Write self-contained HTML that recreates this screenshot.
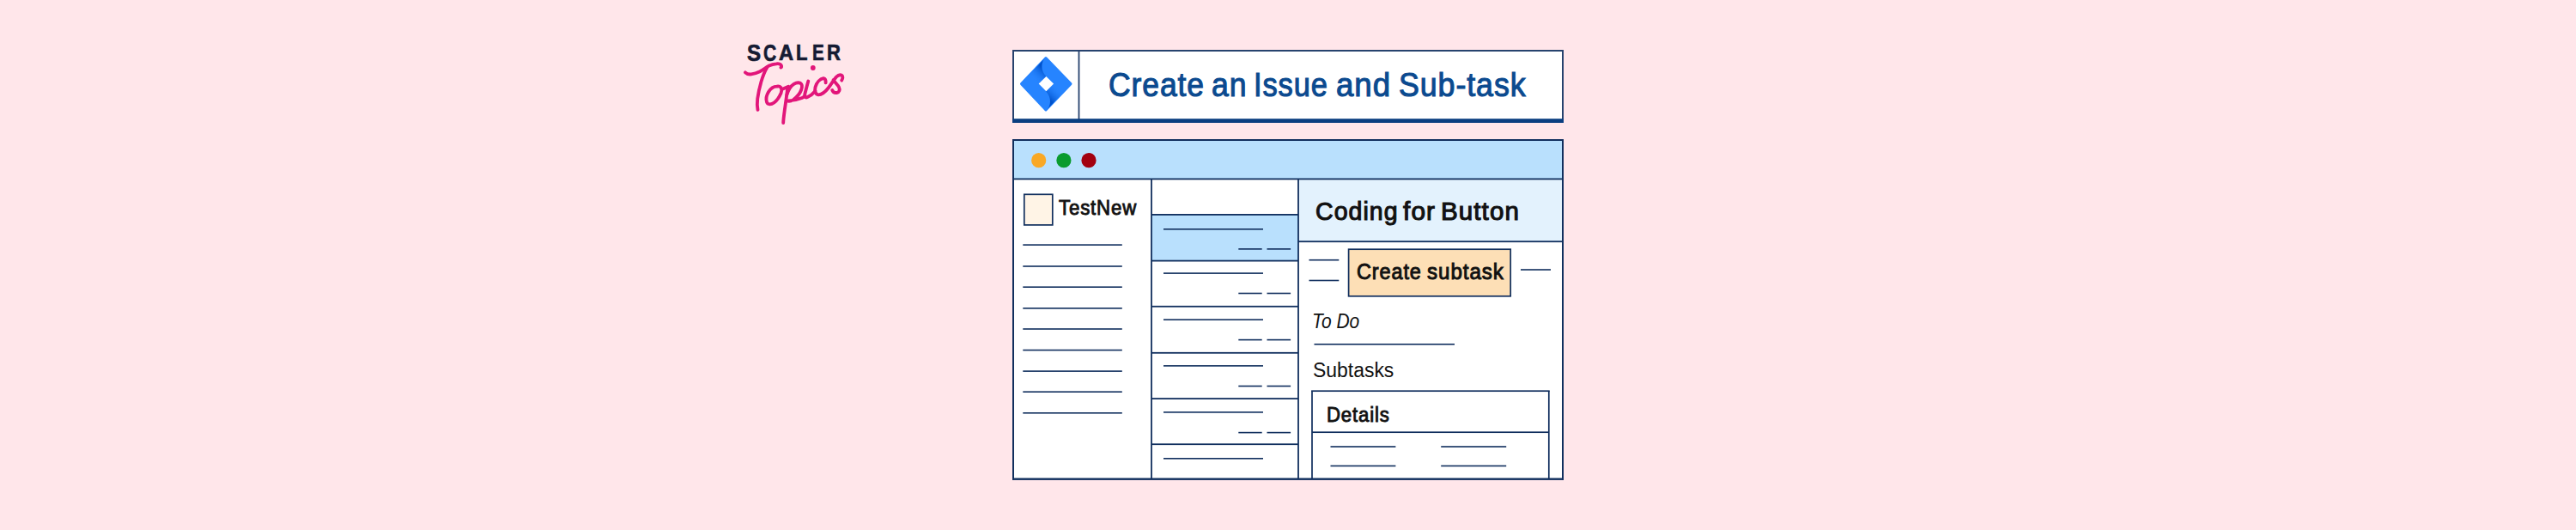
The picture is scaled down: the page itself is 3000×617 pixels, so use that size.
<!DOCTYPE html>
<html><head><meta charset="utf-8">
<style>
html,body{margin:0;padding:0;}
body{width:3000px;height:617px;background:#FFE6EA;position:relative;overflow:hidden;font-family:"Liberation Sans",sans-serif;}
.a{position:absolute;}
.t{position:absolute;white-space:nowrap;line-height:1;transform-origin:0 0;}
</style></head><body>
<div class="a" style="left:1180px;top:59px;width:640px;height:82px;background:#fff;"></div>
<div class="a" style="left:1180px;top:163px;width:640px;height:395px;background:#fff;"></div>
<div class="a" style="left:1180px;top:163px;width:640px;height:45px;background:#B9E0FD;"></div>
<div class="a" style="left:1341px;top:250px;width:171px;height:54px;background:#B9E0FD;"></div>
<div class="a" style="left:1512px;top:209px;width:308px;height:72px;background:#E3F2FD;"></div>
<svg class="a" style="left:0;top:0" width="3000" height="617" viewBox="0 0 3000 617"><rect x="1179" y="58.00" width="642" height="2" fill="#27436E"/>
<rect x="1179.00" y="58" width="2" height="84" fill="#27436E"/>
<rect x="1819.00" y="58" width="2" height="84" fill="#27436E"/>
<rect x="1255.60" y="59" width="1.8" height="80" fill="#27436E"/>
<rect x="1179" y="138.20" width="642" height="4.8" fill="#0A3E80"/>
<rect x="1179" y="162.00" width="642" height="2" fill="#112F5E"/>
<rect x="1179" y="207.50" width="642" height="1.8" fill="#112F5E"/>
<rect x="1179.00" y="162" width="2" height="396.70000000000005" fill="#112F5E"/>
<rect x="1819.00" y="162" width="2" height="396.70000000000005" fill="#112F5E"/>
<rect x="1179" y="556.70" width="642" height="2" fill="#112F5E"/>
<rect x="1340.10" y="208" width="1.8" height="350" fill="#112F5E"/>
<rect x="1511.10" y="208" width="1.8" height="350" fill="#112F5E"/>
<rect x="1192.8" y="226.3" width="33" height="35.6" fill="#FFF4E6" stroke="#112F5E" stroke-width="1.7"/>
<rect x="1191.3" y="284.30" width="115.5" height="1.6" fill="#112F5E"/>
<rect x="1191.3" y="309.20" width="115.5" height="1.6" fill="#112F5E"/>
<rect x="1191.3" y="333.40" width="115.5" height="1.6" fill="#112F5E"/>
<rect x="1191.3" y="358.10" width="115.5" height="1.6" fill="#112F5E"/>
<rect x="1191.3" y="382.20" width="115.5" height="1.6" fill="#112F5E"/>
<rect x="1191.3" y="406.80" width="115.5" height="1.6" fill="#112F5E"/>
<rect x="1191.3" y="431.30" width="115.5" height="1.6" fill="#112F5E"/>
<rect x="1191.3" y="455.40" width="115.5" height="1.6" fill="#112F5E"/>
<rect x="1191.3" y="480.00" width="115.5" height="1.6" fill="#112F5E"/>
<rect x="1341" y="249.00" width="171" height="1.8" fill="#112F5E"/>
<rect x="1341" y="302.70" width="171" height="1.8" fill="#112F5E"/>
<rect x="1341" y="355.90" width="171" height="1.8" fill="#112F5E"/>
<rect x="1341" y="409.90" width="171" height="1.8" fill="#112F5E"/>
<rect x="1341" y="463.20" width="171" height="1.8" fill="#112F5E"/>
<rect x="1341" y="516.30" width="171" height="1.8" fill="#112F5E"/>
<rect x="1355" y="266.00" width="116" height="1.6" fill="#112F5E"/>
<rect x="1355" y="317.30" width="116" height="1.6" fill="#112F5E"/>
<rect x="1355" y="371.40" width="116" height="1.6" fill="#112F5E"/>
<rect x="1355" y="425.10" width="116" height="1.6" fill="#112F5E"/>
<rect x="1355" y="479.10" width="116" height="1.6" fill="#112F5E"/>
<rect x="1355" y="533.00" width="116" height="1.6" fill="#112F5E"/>
<rect x="1442.3" y="289.10" width="27.40000000000009" height="1.6" fill="#112F5E"/>
<rect x="1475.5" y="289.10" width="27.59999999999991" height="1.6" fill="#112F5E"/>
<rect x="1442.3" y="340.70" width="27.40000000000009" height="1.6" fill="#112F5E"/>
<rect x="1475.5" y="340.70" width="27.59999999999991" height="1.6" fill="#112F5E"/>
<rect x="1442.3" y="394.80" width="27.40000000000009" height="1.6" fill="#112F5E"/>
<rect x="1475.5" y="394.80" width="27.59999999999991" height="1.6" fill="#112F5E"/>
<rect x="1442.3" y="448.70" width="27.40000000000009" height="1.6" fill="#112F5E"/>
<rect x="1475.5" y="448.70" width="27.59999999999991" height="1.6" fill="#112F5E"/>
<rect x="1442.3" y="502.80" width="27.40000000000009" height="1.6" fill="#112F5E"/>
<rect x="1475.5" y="502.80" width="27.59999999999991" height="1.6" fill="#112F5E"/>
<rect x="1512" y="280.30" width="308" height="1.8" fill="#112F5E"/>
<rect x="1570.6" y="290.2" width="188.6" height="54.6" fill="#FDDFB6" stroke="#112F5E" stroke-width="1.7"/>
<rect x="1524.5" y="301.90" width="34.799999999999955" height="1.6" fill="#112F5E"/>
<rect x="1524.5" y="325.70" width="34.799999999999955" height="1.6" fill="#112F5E"/>
<rect x="1771" y="313.20" width="35" height="1.6" fill="#112F5E"/>
<rect x="1530.5" y="400.00" width="163.5" height="1.6" fill="#112F5E"/>
<rect x="1527.1" y="454.35" width="277.60000000000014" height="1.7" fill="#112F5E"/>
<rect x="1527.15" y="455.2" width="1.7" height="102.50000000000006" fill="#112F5E"/>
<rect x="1802.95" y="455.2" width="1.7" height="102.50000000000006" fill="#112F5E"/>
<rect x="1528" y="502.35" width="276" height="1.7" fill="#112F5E"/>
<rect x="1549.5" y="519.20" width="75.90000000000009" height="1.6" fill="#112F5E"/>
<rect x="1678.2" y="519.20" width="76.0" height="1.6" fill="#112F5E"/>
<rect x="1549.5" y="541.60" width="75.90000000000009" height="1.6" fill="#112F5E"/>
<rect x="1678.2" y="541.60" width="76.0" height="1.6" fill="#112F5E"/>
<rect x="1819.00" y="162" width="2" height="396.70000000000005" fill="#112F5E"/>
<rect x="1179" y="556.70" width="642" height="2" fill="#112F5E"/><circle cx="1209.7" cy="186.7" r="8.6" fill="#F9A825"/><circle cx="1238.9" cy="186.7" r="8.6" fill="#0A9B2E"/><circle cx="1268" cy="186.7" r="8.6" fill="#A3000F"/></svg>
<div class="t" id="t_h1_0" style="left:1291.00px;top:80.08px;font-size:38.921px;transform:scaleX(0.9121);font-weight:normal;color:#0B4A8F;-webkit-text-stroke:1.1px #0B4A8F;letter-spacing:1px;">Create</div>
<div class="t" id="t_h1_1" style="left:1411.00px;top:80.08px;font-size:38.921px;transform:scaleX(0.9164);font-weight:normal;color:#0B4A8F;-webkit-text-stroke:1.1px #0B4A8F;letter-spacing:1px;">an</div>
<div class="t" id="t_h1_2" style="left:1460.20px;top:80.08px;font-size:38.921px;transform:scaleX(0.8859);font-weight:normal;color:#0B4A8F;-webkit-text-stroke:1.1px #0B4A8F;letter-spacing:1px;">Issue</div>
<div class="t" id="t_h1_3" style="left:1556.00px;top:80.08px;font-size:38.921px;transform:scaleX(0.9432);font-weight:normal;color:#0B4A8F;-webkit-text-stroke:1.1px #0B4A8F;letter-spacing:1px;">and</div>
<div class="t" id="t_h1_4" style="left:1629.20px;top:80.08px;font-size:38.921px;transform:scaleX(0.9195);font-weight:normal;color:#0B4A8F;-webkit-text-stroke:1.1px #0B4A8F;letter-spacing:1px;">Sub-task</div>
<div class="t" id="t_tn" style="left:1233.00px;top:230.14px;font-size:23.904px;transform:scaleX(0.9299);font-weight:normal;color:#111;-webkit-text-stroke:0.9px #111;letter-spacing:0.9px;">TestNew</div>
<div class="t" id="t_cb_0" style="left:1532.00px;top:231.08px;font-size:29.671px;transform:scaleX(0.9609);font-weight:normal;color:#111;-webkit-text-stroke:1.1px #111;letter-spacing:1.1px;">Coding</div>
<div class="t" id="t_cb_1" style="left:1633.60px;top:231.08px;font-size:29.671px;transform:scaleX(1.0057);font-weight:normal;color:#111;-webkit-text-stroke:1.1px #111;letter-spacing:1.1px;">for</div>
<div class="t" id="t_cb_2" style="left:1678.20px;top:231.08px;font-size:29.671px;transform:scaleX(0.9957);font-weight:normal;color:#111;-webkit-text-stroke:1.1px #111;letter-spacing:1.1px;">Button</div>
<div class="t" id="t_cs_0" style="left:1580.00px;top:302.90px;font-size:26.611px;transform:scaleX(0.8827);font-weight:normal;color:#111;-webkit-text-stroke:1.0px #111;letter-spacing:1px;">Create</div>
<div class="t" id="t_cs_1" style="left:1662.20px;top:302.90px;font-size:26.611px;transform:scaleX(0.9096);font-weight:normal;color:#111;-webkit-text-stroke:1.0px #111;letter-spacing:1px;">subtask</div>
<div class="t" id="t_td" style="left:1528.40px;top:362.22px;font-size:24.067px;transform:scaleX(0.8734);font-style:italic;color:#111;">To Do</div>
<div class="t" id="t_st" style="left:1528.80px;top:419.16px;font-size:24.120px;transform:scaleX(0.9511);color:#111;">Subtasks</div>
<div class="t" id="t_dt" style="left:1545.40px;top:471.16px;font-size:24.120px;transform:scaleX(0.9208);font-weight:normal;color:#111;-webkit-text-stroke:0.9px #111;letter-spacing:0.9px;">Details</div>
<div class="t" id="t_s1" style="left:869.80px;top:47.82px;font-size:27.760px;transform:scaleX(0.8680);font-weight:bold;color:#161B33;-webkit-text-stroke:0.7px #161B33;">S</div>
<div class="t" id="t_s2" style="left:889.00px;top:47.82px;font-size:27.760px;transform:scaleX(0.7575);font-weight:bold;color:#161B33;-webkit-text-stroke:0.7px #161B33;">C</div>
<div class="t" id="t_s3" style="left:906.80px;top:48.96px;font-size:25.808px;transform:scaleX(0.9175);font-weight:bold;color:#161B33;-webkit-text-stroke:0.7px #161B33;">A</div>
<div class="t" id="t_s4" style="left:927.40px;top:48.96px;font-size:25.808px;transform:scaleX(0.8520);font-weight:bold;color:#161B33;-webkit-text-stroke:0.7px #161B33;">L</div>
<div class="t" id="t_s5" style="left:946.40px;top:48.96px;font-size:25.808px;transform:scaleX(0.7979);font-weight:bold;color:#161B33;-webkit-text-stroke:0.7px #161B33;">E</div>
<div class="t" id="t_s6" style="left:963.40px;top:48.96px;font-size:25.808px;transform:scaleX(0.8540);font-weight:bold;color:#161B33;-webkit-text-stroke:0.7px #161B33;">R</div>
<svg class="a" style="left:0;top:0" width="1300" height="160" viewBox="0 0 1300 160">
<defs>
<linearGradient id="jg1" gradientUnits="userSpaceOnUse" x1="1214" y1="79" x2="1202" y2="91">
<stop offset="0" stop-color="#0052CC" stop-opacity="1"/><stop offset="1" stop-color="#2684FF" stop-opacity="0"/></linearGradient>
<linearGradient id="jg2" gradientUnits="userSpaceOnUse" x1="1222.4" y1="116.2" x2="1234.4" y2="104.2">
<stop offset="0" stop-color="#0052CC" stop-opacity="1"/><stop offset="1" stop-color="#2684FF" stop-opacity="0"/></linearGradient>
</defs>
<path d="M1218,67.5 L1247,97.6 L1218,128 L1189.5,97.6 Z" fill="#2684FF" stroke="#2684FF" stroke-width="3" stroke-linejoin="round"/>
<path d="M1218,66.5 C1212,72 1211.5,82 1218.4,89 L1209.7,97.6 L1189,97.6 Z" fill="url(#jg1)"/>
<path d="M1218.4,128.7 C1224.4,123.2 1224.9,113.2 1218,106.2 L1226.7,97.6 L1247.4,97.6 Z" fill="url(#jg2)"/>
<path d="M1218.4,89 L1227.1,97.6 L1218.4,106.2 L1209.7,97.6 Z" fill="#fff"/>
<g fill="none" stroke="#E2167A" stroke-width="3.85" stroke-linecap="round" stroke-linejoin="round">
<path d="M867.9,84.4 C870,86.5 872,86.8 875,86.4 C879,85.8 882,84.6 885,83.2 C889,81 892,78.5 895,76.8 C898,75.4 901,74.5 904,74.3 C906.5,74.0 908.8,74.5 909.8,76 C910.3,77.2 910,78.3 909.4,78.6"/>
<path d="M893.3,78.5 C890,84 888,90 886.5,95 C884.5,102 883,109 882.2,115 C881.6,120 881.8,124 882.5,127.8"/>
<path d="M905,100.6 C901,100.4 897.5,103 895,107 C892.5,111 892,116 893,119 C894,122 898,122 901.5,119.5 C905,117 908,112 909.5,108.5 C910.7,105.5 910.5,102 908,100.8 C906.5,100.1 905,100.6 905,100.6"/>
<path d="M910.5,104 C913,103 916,101.5 918.2,100.8"/>
<path d="M917.4,101.5 C916.3,110 915,120 913.8,128 C913,134 912.3,139 912.2,143"/>
<path d="M916.3,110.5 C918,105 921,100 924.5,97.8 C927,96.3 930,95.8 932.2,96.8 C934.2,98 934.3,101.5 933,105 C931.5,109 928,113 924,116 C921,118 918,118 916.5,117.3 C922,117.5 929,116 934,114 C936,113 937,112.5 937.5,111.5"/>
<path d="M941.3,94.5 C940,99 938.5,105 937.2,110 C936.8,112.5 938,114 940,113.3 C943,112 947,109 949.5,106"/>
<path d="M961.6,96.4 C961.8,93.5 961,91 959,91.2 C955,92 951,96 949.5,101.5 C948.5,106 949.5,110 953,110.3 C957,110.5 961.5,106.5 965,102 C968,98 971,93 974,89.5 C976,87.5 978,86.8 980,87.5 C981.8,88.5 981.8,91.5 980.2,93.5"/>
<path d="M970.6,93 C972,96 975.5,98.5 977,101.5 C978.5,104.5 977.5,107.5 974.5,108 C972,108.3 970,107 969.2,105"/>
</g>
<circle cx="946.8" cy="79" r="2.9" fill="#E2167A"/>
</svg>

</body></html>
